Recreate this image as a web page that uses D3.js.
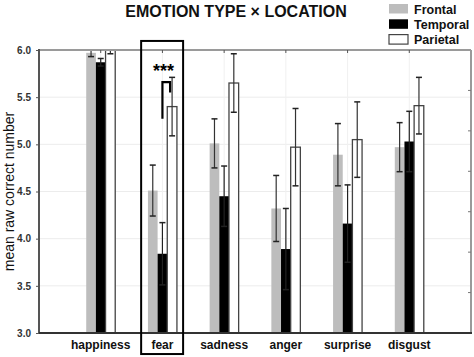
<!DOCTYPE html>
<html><head><meta charset="utf-8">
<script src="https://cdn.jsdelivr.net/npm/d3@7"></script>
<style>body{margin:0;background:#fff}svg{display:block;font-family:"Liberation Sans",Arial,sans-serif}</style>
</head><body>
<svg id="c" width="474" height="357"></svg>
<script>
const categories = ["happiness","fear","sadness","anger","surprise","disgust"];
const seriesNames = ["Frontal","Temporal","Parietal"];
const frontal  = [5.97, 4.51, 5.01, 4.32, 4.89, 4.97];
const temporal = [5.87, 3.84, 4.45, 3.89, 4.16, 5.03];
const parietal = [6.00, 5.40, 5.65, 4.97, 5.05, 5.41];
const frontalErr  = [0.04, 0.27, 0.26, 0.35, 0.33, 0.26];
const temporalErr = [0.04, 0.33, 0.32, 0.43, 0.41, 0.32];
const parietalErr = [0.04, 0.31, 0.31, 0.41, 0.40, 0.30];
const yTicks = [3.0, 3.5, 4.0, 4.5, 5.0, 5.5, 6.0];

const svg = d3.select("#c");
const L = 39, R = 471, T = 50, B = 333;
const x = d3.scaleLinear().domain([0, categories.length + 1]).range([L, R]);
const y = d3.scaleLinear().domain([3, 6]).range([B, T]);
const inner = d3.scaleBand().domain(seriesNames).range([-14.5, 14.5]).padding(0);
const fills = {Frontal:"#bdbdbd", Temporal:"#000", Parietal:"#fff"};
const vals = {Frontal:frontal, Temporal:temporal, Parietal:parietal};
const errs = {Frontal:frontalErr, Temporal:temporalErr, Parietal:parietalErr};

// gridlines
svg.append("g").selectAll("line").data(yTicks.slice(1,-1)).join("line")
  .attr("x1", L).attr("x2", R).attr("y1", d=>y(d)).attr("y2", d=>y(d))
  .attr("stroke", "#ececec").attr("stroke-width", 1);
svg.append("g").selectAll("line").data(categories).join("line")
  .attr("x1", (d,i)=>x(i+1)).attr("x2", (d,i)=>x(i+1)).attr("y1", T).attr("y2", B)
  .attr("stroke", "#f0f0f0").attr("stroke-width", 1);

svg.append("defs").append("clipPath").attr("id","clip")
  .append("rect").attr("x", L).attr("y", T).attr("width", R-L).attr("height", B-T);

const plot = svg.append("g").attr("clip-path","url(#clip)");
const rows = [];
categories.forEach((c,i)=>seriesNames.forEach(s=>rows.push({c, i, s, v: vals[s][i], e: errs[s][i]})));

plot.selectAll("rect.bar").data(rows).join("rect").attr("class","bar")
  .attr("x", d=>x(d.i+1)+inner(d.s))
  .attr("width", inner.bandwidth())
  .attr("y", d=>y(d.v)).attr("height", d=>y(3)-y(d.v))
  .attr("fill", d=>fills[d.s])
  .attr("stroke", d=>d.s==="Parietal" ? "#444" : "none")
  .attr("stroke-width", 1.3);

const eb = plot.selectAll("g.eb").data(rows).join("g").attr("class","eb")
  .attr("transform", d=>`translate(${x(d.i+1)+inner(d.s)+inner.bandwidth()/2},0)`);
eb.append("line").attr("y1", d=>y(d.v+d.e)).attr("y2", d=>y(d.v-d.e)).attr("stroke", d=>d.s==="Temporal"?"#222":"#333").attr("stroke-width",1.2);
eb.append("line").attr("x1",-3).attr("x2",3).attr("y1", d=>y(d.v+d.e)).attr("y2", d=>y(d.v+d.e)).attr("stroke","#222").attr("stroke-width",1.5);
eb.append("line").attr("x1",-3).attr("x2",3).attr("y1", d=>y(d.v-d.e)).attr("y2", d=>y(d.v-d.e)).attr("stroke","#222").attr("stroke-width",1.5);

// frame
svg.append("line").attr("x1",L).attr("x2",R).attr("y1",T).attr("y2",T).attr("stroke","#9a9a9a").attr("stroke-width",2);
svg.append("line").attr("x1",R).attr("x2",R).attr("y1",T).attr("y2",B).attr("stroke","#9a9a9a").attr("stroke-width",2);
svg.append("line").attr("x1",L).attr("x2",L).attr("y1",T-1).attr("y2",B+1).attr("stroke","#555").attr("stroke-width",2);
svg.append("line").attr("x1",L).attr("x2",R+1).attr("y1",B).attr("y2",B).attr("stroke","#333").attr("stroke-width",2);

// top ticks at categories
svg.append("g").selectAll("line").data(categories).join("line")
  .attr("x1",(d,i)=>x(i+1)).attr("x2",(d,i)=>x(i+1)).attr("y1",T).attr("y2",T+3)
  .attr("stroke","#555").attr("stroke-width",1);
// right inner ticks
const yr = d3.scaleLinear().domain([0,7]).range([B,T]);
svg.append("g").selectAll("line").data(d3.range(1,7)).join("line")
  .attr("x1",R-3).attr("x2",R).attr("y1",d=>yr(d)).attr("y2",d=>yr(d))
  .attr("stroke","#777").attr("stroke-width",1);

// y axis
const yAxis = svg.append("g").attr("transform",`translate(${L},0)`)
  .call(d3.axisLeft(y).tickValues(yTicks).tickFormat(d3.format(".1f")).tickSize(3).tickPadding(5));
yAxis.select(".domain").remove();
yAxis.selectAll("line").attr("stroke","#555");
yAxis.selectAll("text").attr("font-size",10).attr("font-weight","bold").attr("fill","#333").attr("font-family","Liberation Sans, Arial, sans-serif");

// x labels
svg.append("g").selectAll("text").data(categories).join("text")
  .attr("x",(d,i)=>x(i+1)).attr("y",349).attr("text-anchor","middle")
  .attr("font-size",12).attr("font-weight","bold").attr("fill","#111").text(d=>d);

// y title
svg.append("text").attr("transform",`translate(14,${(T+B)/2}) rotate(-90)`)
  .attr("text-anchor","middle").attr("font-size",14).attr("fill","#111").text("mean raw correct number");

// title
svg.append("text").attr("x",236).attr("y",17).attr("text-anchor","middle")
  .attr("font-size",16).attr("font-weight","bold").attr("fill","#111").text("EMOTION TYPE × LOCATION");

// legend
const lg = svg.append("g").selectAll("g").data(seriesNames).join("g")
  .attr("transform",(d,i)=>`translate(389,${4+i*15.3})`);
lg.append("rect").attr("width",19).attr("height",9.5)
  .attr("fill",d=>fills[d]).attr("stroke",d=>d==="Parietal"?"#444":"none").attr("stroke-width",1.2);
lg.append("text").attr("x",25).attr("y",9.5).attr("font-size",12.5).attr("font-weight","bold").attr("fill","#111").text(d=>d);

// fear highlight
const fi = categories.indexOf("fear") + 1;
svg.append("rect").attr("x",x(fi-0.345)).attr("y",y(6.096)).attr("width",x(fi+0.335)-x(fi-0.345)).attr("height",y(2.777)-y(6.096))
  .attr("fill","none").attr("stroke","#000").attr("stroke-width",2);
// significance bracket
const xt = x(fi)+inner("Temporal")+inner.bandwidth()/2;
const xp = x(fi)+inner("Parietal")+inner.bandwidth()/2 - 2;
svg.append("path").attr("d",`M${xt},${y(5.27)}V${y(5.66)}H${xp}V${y(5.55)}`)
  .attr("fill","none").attr("stroke","#000").attr("stroke-width",2.2);
svg.append("text").attr("x",x(fi)+1).attr("y",y(5.66)-5).attr("text-anchor","middle")
  .attr("font-size",18).attr("font-weight","bold").attr("fill","#000").text("***");
</script>
</body></html>
